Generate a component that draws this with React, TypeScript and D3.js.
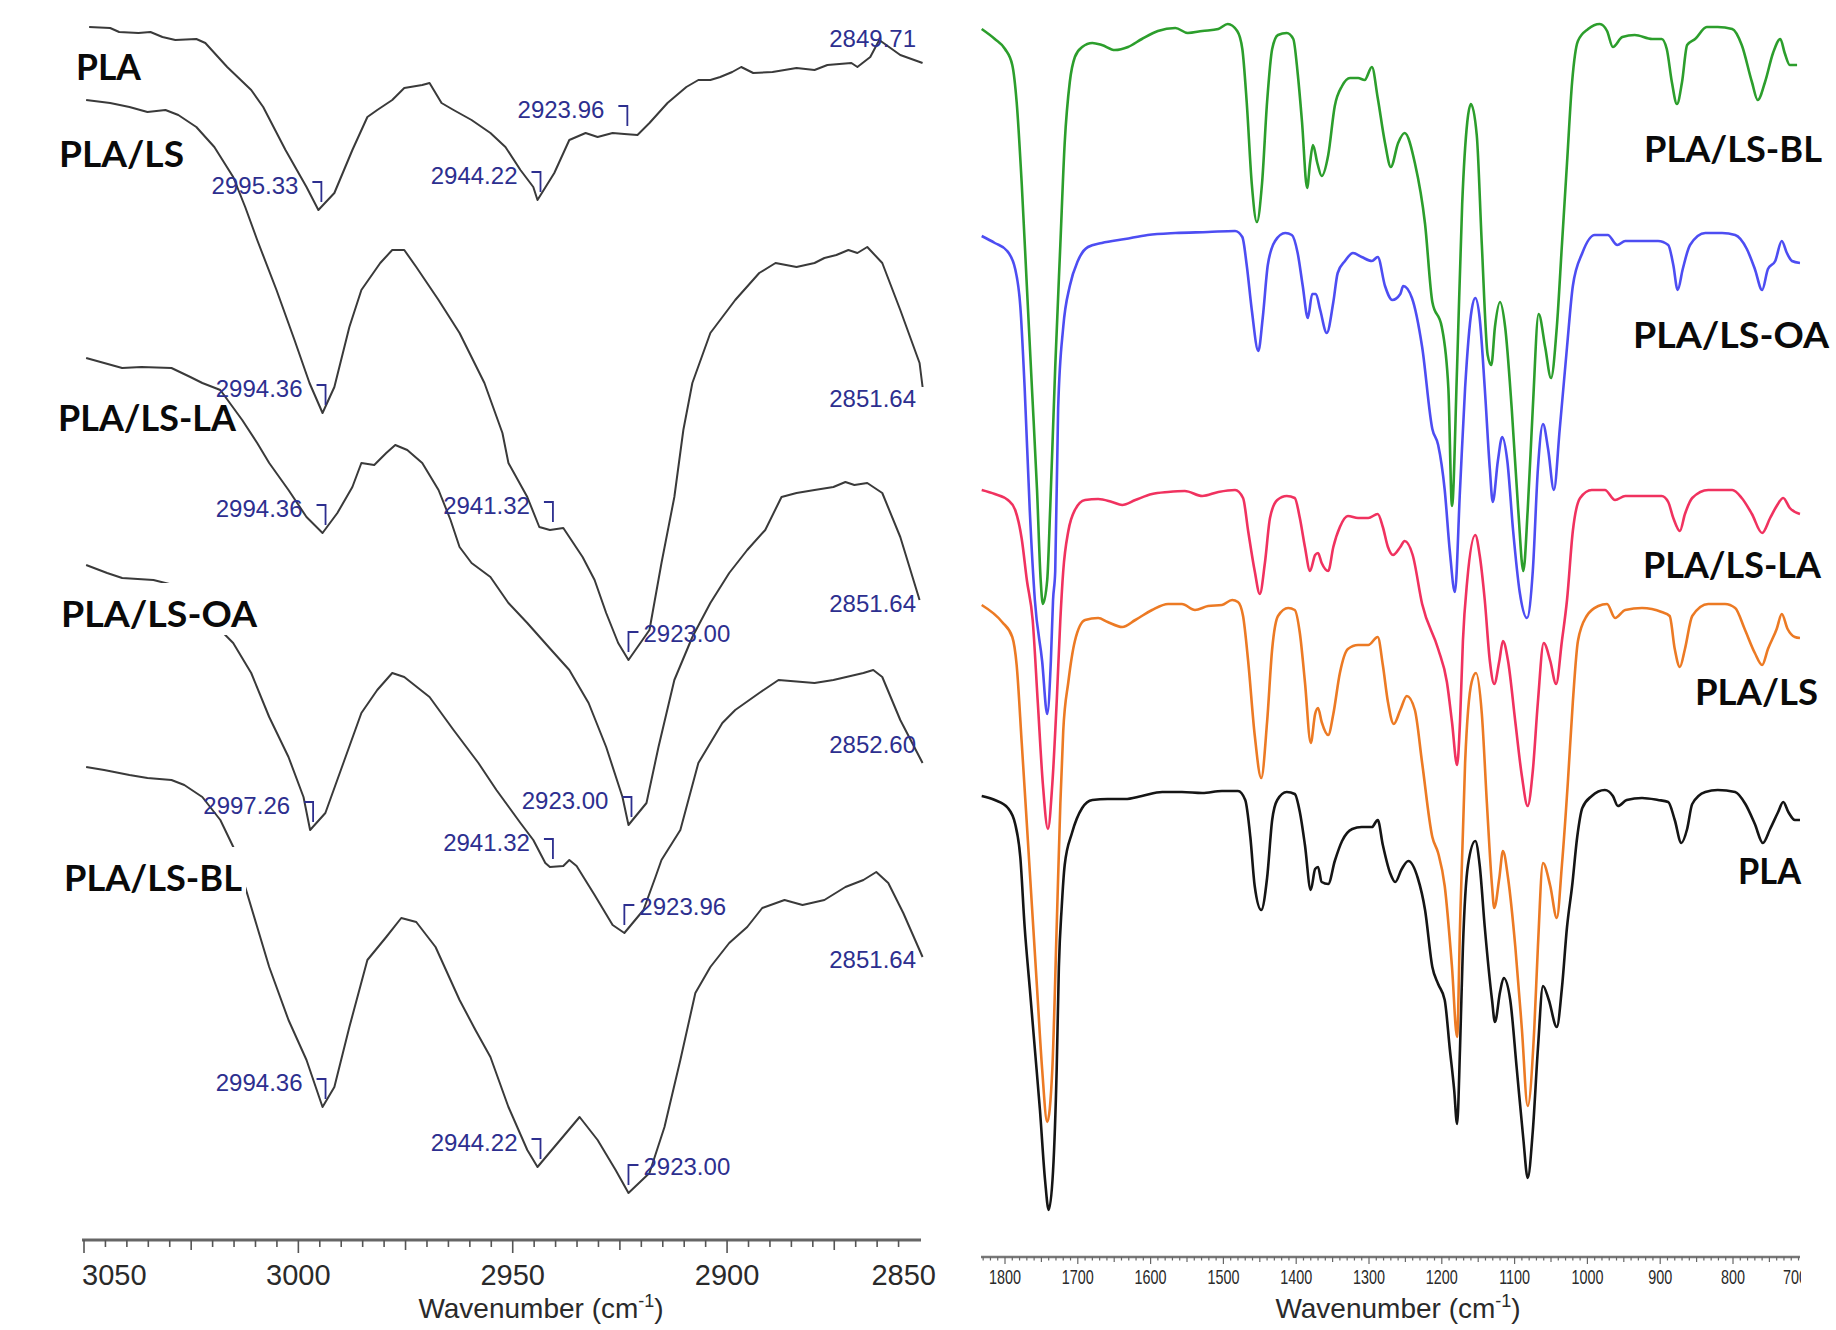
import { useEffect, useRef } from 'react'
import * as d3 from 'd3'

type Pt = [number, number]

// C–H stretching region: [wavenumber (cm-1), stacked transmittance (a.u.)]
const chPLA: Pt[] = [[3048.8,122.3],[3043.9,122.2],[3041.8,121.8],[3037.3,121.7],[3034.5,121.8],[3031.7,121.3],[3028.7,121.0],[3023.8,121.1],[3021.7,120.7],[3016.6,118.3],[3011.0,116.0],[3008.2,114.3],[3003.0,110.0],[2998.1,106.3],[2995.33,104.0],[2991.6,105.7],[2987.4,110.0],[2983.9,113.3],[2981.6,114.0],[2978.1,115.0],[2975.3,116.2],[2971.1,116.5],[2969.4,116.7],[2966.6,114.7],[2963.8,114.0],[2959.6,113.0],[2955.2,111.7],[2951.7,110.3],[2948.2,108.0],[2945.2,106.3],[2944.22,105.0],[2940.3,107.7],[2936.8,111.0],[2933.0,111.7],[2930.2,111.3],[2926.7,111.7],[2923.96,111.6],[2920.9,111.5],[2918.1,112.7],[2913.9,114.7],[2909.5,116.3],[2906.7,117.0],[2903.9,117.0],[2901.6,117.3],[2898.8,117.8],[2896.7,118.3],[2893.9,117.7],[2889.4,117.8],[2883.8,118.2],[2879.6,118.0],[2876.6,118.5],[2871.0,118.7],[2869.6,118.3],[2866.6,119.3],[2864.5,121.0],[2859.6,119.5],[2854.4,118.7]]
const chLS: Pt[] = [[3049.5,115.0],[3043.9,114.7],[3039.4,114.3],[3035.2,113.8],[3031.0,114.0],[3028.0,113.5],[3023.8,112.3],[3019.6,110.3],[3015.2,107.3],[3012.4,104.3],[3009.6,101.0],[3005.1,96.0],[3000.9,91.0],[2997.4,86.7],[2994.36,83.7],[2991.6,86.3],[2988.1,92.3],[2985.3,96.0],[2980.9,98.7],[2978.1,100.0],[2975.3,100.0],[2972.5,98.3],[2967.3,95.0],[2962.4,91.7],[2956.6,86.7],[2952.4,81.7],[2951.0,78.7],[2946.6,75.3],[2943.8,72.3],[2941.32,72.0],[2938.2,72.2],[2933.7,69.3],[2930.9,67.0],[2928.2,63.7],[2925.4,60.7],[2923.0,59.0],[2918.1,62.0],[2915.3,68.7],[2912.3,75.3],[2910.2,82.0],[2908.1,86.7],[2903.9,91.7],[2898.1,95.0],[2892.5,97.7],[2888.7,98.7],[2883.8,98.3],[2879.6,98.7],[2877.3,99.2],[2874.5,99.5],[2871.7,100.0],[2869.6,99.7],[2867.3,100.3],[2863.8,98.7],[2859.6,94.0],[2855.1,88.7],[2854.4,86.3]]
const chLA: Pt[] = [[3049.5,89.2],[3045.3,88.7],[3041.1,88.2],[3036.6,88.3],[3029.6,88.2],[3025.2,87.3],[3022.4,86.7],[3018.2,86.0],[3013.1,83.0],[3009.6,80.7],[3006.8,78.7],[3002.3,76.0],[2998.1,73.3],[2994.36,71.7],[2990.9,73.7],[2987.4,76.3],[2985.3,78.7],[2982.3,78.5],[2979.5,79.7],[2977.4,80.5],[2974.6,80.0],[2971.1,78.7],[2967.3,76.0],[2964.5,73.0],[2962.4,70.3],[2959.6,68.7],[2955.2,67.3],[2951.0,64.7],[2946.6,62.7],[2941.0,60.0],[2936.8,58.0],[2932.3,54.7],[2928.2,50.3],[2924.4,45.3],[2923.0,42.5],[2918.8,44.7],[2916.0,50.3],[2912.3,57.0],[2908.1,61.3],[2903.9,64.7],[2899.5,67.7],[2895.3,70.0],[2891.1,72.0],[2887.3,75.3],[2883.8,75.7],[2879.6,76.0],[2875.2,76.3],[2872.4,76.8],[2870.3,76.5],[2867.3,76.7],[2863.8,75.7],[2859.6,71.3],[2855.1,65.0]]
const chOA: Pt[] = [[3049.5,68.5],[3044.6,67.7],[3041.1,67.2],[3033.8,67.0],[3027.3,66.3],[3018.2,62.0],[3015.2,60.7],[3011.0,57.7],[3006.8,53.3],[3002.3,49.3],[2998.8,45.3],[2997.26,42.0],[2993.7,43.7],[2989.5,48.7],[2985.3,53.7],[2981.6,56.0],[2978.1,57.7],[2975.3,57.3],[2969.4,55.3],[2963.8,52.0],[2958.0,48.7],[2953.8,46.0],[2948.2,42.7],[2945.2,41.0],[2942.4,38.7],[2941.32,38.3],[2938.2,38.4],[2936.8,39.0],[2935.1,38.4],[2930.9,35.5],[2926.7,32.5],[2923.96,31.7],[2919.5,34.0],[2916.7,37.3],[2915.3,39.0],[2910.9,42.0],[2906.7,48.7],[2901.1,52.7],[2898.1,54.0],[2892.5,55.7],[2888.0,57.0],[2879.6,56.7],[2875.2,57.0],[2868.2,57.7],[2865.9,58.0],[2863.8,57.3],[2859.6,53.0],[2854.4,48.7]]
const chBL: Pt[] = [[3049.5,48.3],[3045.3,48.0],[3039.4,47.5],[3035.2,47.2],[3029.6,47.0],[3026.6,46.5],[3022.4,45.3],[3018.2,43.0],[3014.5,39.7],[3012.4,36.3],[3009.6,32.3],[3006.8,28.3],[3002.3,23.0],[2998.1,19.0],[2994.36,14.3],[2991.6,16.3],[2988.1,22.3],[2983.9,29.0],[2979.5,31.3],[2976.0,33.2],[2972.5,32.8],[2968.0,30.3],[2962.4,25.0],[2958.7,22.0],[2955.2,19.3],[2951.0,14.3],[2946.6,10.0],[2944.22,8.3],[2940.3,10.3],[2934.4,13.3],[2930.2,11.0],[2926.0,8.0],[2923.0,5.7],[2918.1,7.7],[2914.6,12.3],[2910.9,19.0],[2907.4,25.7],[2903.9,28.3],[2899.5,30.7],[2895.3,32.3],[2891.8,34.2],[2886.6,35.0],[2882.4,34.5],[2877.3,35.0],[2872.4,36.3],[2868.2,37.0],[2865.2,37.8],[2862.4,36.7],[2858.9,33.7],[2854.4,29.3]]

// fingerprint region, same units
const fpPLA: Pt[] = [[1832,45.4],[1814,45.0],[1796,44.2],[1786,42.6],[1779,39.3],[1773,32.3],[1766,26.2],[1759,20.1],[1752,14.0],[1745,7.0],[1740,4.0],[1734,7.9],[1729,18.1],[1726,28.3],[1722,34.4],[1718,38.5],[1708,41.7],[1694,44.2],[1680,45.0],[1659,45.1],[1635,45.1],[1612,45.4],[1584,45.8],[1557,45.8],[1529,45.7],[1502,45.9],[1480,45.9],[1470,45.0],[1463,41.3],[1457,36.4],[1448,34.0],[1440,37.2],[1433,43.0],[1426,45.0],[1413,45.8],[1402,45.6],[1395,43.8],[1388,40.5],[1380,36.0],[1374,38.1],[1370,38.3],[1365,36.8],[1356,36.6],[1347,38.9],[1337,40.9],[1323,42.1],[1310,42.3],[1296,42.3],[1288,43.0],[1281,40.5],[1271,37.7],[1264,36.8],[1255,38.1],[1246,38.9],[1233,37.2],[1223,34.0],[1213,28.3],[1205,26.6],[1196,25.0],[1189,20.1],[1183,16.0],[1179,12.6],[1175,20.1],[1171,30.3],[1164,38.5],[1154,40.9],[1148,38.5],[1141,32.3],[1131,25.0],[1127,22.8],[1120,25.8],[1115,27.2],[1106,25.0],[1097,18.1],[1088,11.1],[1082,7.2],[1075,11.9],[1068,20.1],[1061,26.4],[1053,25.0],[1042,22.3],[1035,26.2],[1028,32.3],[1021,36.4],[1014,41.3],[1007,44.2],[994,45.4],[976,46.0],[965,45.4],[958,44.4],[946,45.0],[925,45.2],[903,45.0],[889,44.8],[880,43.0],[871,40.7],[863,42.1],[856,44.6],[838,45.8],[821,46.0],[797,45.8],[783,44.6],[770,42.6],[759,40.7],[749,42.1],[738,43.8],[731,44.8],[724,43.8],[715,43.0],[708,43.0]]
const fpLS: Pt[] = [[1832,64.5],[1804,62.8],[1790,61.3],[1784,58.5],[1777,50.7],[1770,42.6],[1763,34.4],[1756,26.2],[1749,18.1],[1742,12.8],[1735,18.1],[1729,32.3],[1724,44.6],[1720,51.9],[1713,56.8],[1704,60.9],[1690,63.0],[1672,63.2],[1659,62.8],[1639,62.3],[1621,63.0],[1598,64.0],[1576,64.6],[1557,64.6],[1539,64.0],[1521,64.4],[1502,64.5],[1488,65.0],[1480,64.8],[1473,63.4],[1466,58.9],[1457,51.5],[1448,47.2],[1440,52.8],[1433,60.1],[1425,63.4],[1411,64.2],[1402,64.0],[1395,61.7],[1388,56.8],[1380,50.7],[1374,53.6],[1370,54.2],[1365,52.8],[1356,51.5],[1349,53.6],[1340,57.7],[1329,60.1],[1315,60.5],[1301,60.5],[1288,61.3],[1281,58.5],[1274,54.8],[1266,52.6],[1257,54.0],[1248,55.4],[1237,54.0],[1227,48.7],[1213,41.3],[1205,39.7],[1196,36.4],[1186,28.3],[1179,21.3],[1175,32.3],[1168,48.7],[1159,56.8],[1153,57.7],[1145,53.6],[1138,44.6],[1131,36.4],[1128,34.2],[1121,37.2],[1116,39.9],[1109,37.2],[1099,30.3],[1090,22.1],[1082,14.4],[1073,22.1],[1068,30.3],[1061,38.7],[1051,36.4],[1042,33.2],[1035,38.5],[1027,46.6],[1020,54.8],[1013,60.9],[1001,63.4],[985,64.4],[973,64.6],[962,63.2],[948,64.0],[925,64.2],[898,63.8],[887,63.4],[880,60.1],[873,58.3],[866,60.1],[856,63.4],[834,64.6],[811,64.6],[797,64.2],[784,62.1],[770,59.7],[760,58.5],[752,60.1],[740,62.1],[733,63.6],[725,62.1],[715,61.3],[708,61.2]]
const fpLA: Pt[] = [[1832,76.0],[1814,75.6],[1796,75.0],[1786,74.0],[1777,71.1],[1770,67.0],[1762,63.0],[1755,54.8],[1748,46.6],[1741,42.1],[1735,46.6],[1729,54.8],[1724,63.0],[1720,67.9],[1713,71.9],[1704,74.0],[1690,75.0],[1672,75.1],[1653,74.8],[1639,74.5],[1621,75.0],[1598,75.6],[1576,75.8],[1553,75.9],[1529,75.4],[1507,75.8],[1484,76.0],[1473,75.2],[1466,71.9],[1457,67.9],[1450,65.6],[1443,68.7],[1436,73.2],[1426,75.0],[1413,75.4],[1402,75.2],[1395,73.2],[1388,70.3],[1381,67.9],[1374,69.5],[1370,69.7],[1365,68.7],[1356,67.9],[1349,70.3],[1340,72.3],[1329,73.4],[1315,73.2],[1301,73.2],[1288,73.6],[1281,72.3],[1274,70.3],[1267,69.5],[1257,70.3],[1251,70.9],[1240,69.5],[1227,64.6],[1205,60.1],[1193,56.8],[1186,52.8],[1179,48.5],[1175,52.8],[1171,60.9],[1165,67.0],[1154,71.5],[1148,69.5],[1141,65.0],[1134,58.9],[1128,56.6],[1121,58.9],[1116,60.9],[1109,58.9],[1099,52.8],[1090,47.4],[1082,44.4],[1075,47.9],[1068,54.8],[1060,60.7],[1051,58.9],[1043,56.6],[1035,60.9],[1028,65.0],[1020,71.9],[1010,75.2],[994,76.0],[976,76.0],[962,75.0],[948,75.4],[925,75.4],[898,75.4],[889,74.8],[882,73.2],[873,71.9],[866,73.6],[856,75.2],[834,76.0],[801,76.0],[788,75.2],[774,73.6],[760,71.7],[749,73.2],[740,74.4],[731,75.2],[722,74.2],[708,73.6]]
const fpOA: Pt[] = [[1832,101.4],[1814,100.7],[1797,99.9],[1786,98.1],[1779,94.4],[1773,86.2],[1766,74.0],[1759,65.0],[1749,58.9],[1742,53.6],[1737,58.9],[1734,65.0],[1731,67.9],[1727,84.2],[1720,92.3],[1711,96.4],[1700,98.9],[1686,100.3],[1667,100.7],[1635,101.1],[1604,101.5],[1566,101.7],[1521,101.8],[1484,101.9],[1474,101.3],[1468,98.5],[1461,94.0],[1452,89.9],[1446,93.2],[1439,98.5],[1429,100.9],[1415,101.7],[1406,101.5],[1398,99.7],[1391,96.4],[1384,93.2],[1378,95.6],[1373,95.6],[1367,94.0],[1358,91.7],[1349,94.8],[1343,97.7],[1333,98.9],[1322,99.7],[1310,99.3],[1296,98.9],[1288,99.3],[1278,96.4],[1268,95.0],[1257,95.6],[1253,96.4],[1241,95.2],[1227,90.3],[1213,82.1],[1205,80.5],[1196,76.0],[1189,69.9],[1182,65.8],[1175,76.0],[1168,86.2],[1159,94.0],[1154,95.2],[1148,93.2],[1141,86.2],[1134,78.1],[1130,74.8],[1123,78.9],[1117,81.3],[1110,78.9],[1102,71.9],[1093,65.8],[1083,63.2],[1075,67.9],[1068,78.1],[1061,82.6],[1054,80.1],[1046,76.0],[1038,82.1],[1028,90.3],[1020,96.4],[1007,99.7],[990,101.5],[972,101.5],[959,100.5],[948,100.9],[925,100.9],[903,100.9],[889,100.5],[882,98.5],[876,96.0],[869,98.1],[859,100.5],[838,101.7],[815,101.7],[797,101.5],[781,100.1],[770,98.1],[760,96.0],[752,98.1],[742,98.9],[733,100.9],[726,99.7],[719,98.9],[708,98.7]]
const fpBL: Pt[] = [[1832,122.1],[1814,121.1],[1800,120.1],[1790,118.5],[1784,114.8],[1777,106.6],[1770,96.4],[1763,86.2],[1756,76.0],[1751,67.0],[1748,64.6],[1742,67.0],[1738,74.0],[1731,88.3],[1724,100.5],[1718,110.7],[1711,116.8],[1704,119.3],[1694,120.3],[1680,120.7],[1667,120.5],[1649,120.0],[1631,120.3],[1612,121.1],[1590,121.9],[1566,122.2],[1549,121.7],[1529,121.9],[1507,122.1],[1494,122.6],[1481,121.9],[1474,120.1],[1468,114.8],[1461,106.6],[1454,102.8],[1447,106.6],[1440,114.8],[1433,120.1],[1425,121.5],[1413,121.7],[1404,121.1],[1398,117.7],[1392,112.8],[1385,106.2],[1381,108.7],[1377,110.5],[1371,108.7],[1365,107.4],[1356,109.5],[1347,114.4],[1337,116.4],[1326,117.2],[1315,117.2],[1306,117.0],[1296,118.3],[1288,115.2],[1278,110.7],[1270,108.3],[1260,110.7],[1251,111.7],[1237,108.7],[1223,102.6],[1213,94.8],[1200,92.3],[1191,86.2],[1186,74.4],[1179,88.3],[1172,104.6],[1165,112.8],[1160,114.6],[1152,111.5],[1145,100.5],[1137,89.5],[1132,88.5],[1127,92.3],[1120,94.8],[1113,92.3],[1104,84.2],[1095,74.0],[1088,67.9],[1082,74.0],[1075,84.2],[1067,93.6],[1058,90.3],[1050,87.2],[1042,92.3],[1035,100.5],[1028,108.7],[1021,116.8],[1013,120.9],[999,122.1],[983,122.6],[973,121.9],[965,120.3],[952,121.3],[935,121.5],[911,121.1],[898,121.1],[891,120.1],[884,116.8],[877,114.6],[870,116.8],[863,120.5],[852,121.1],[836,122.3],[821,122.3],[801,122.1],[788,120.5],[774,116.8],[766,115.0],[756,116.8],[745,119.7],[735,121.1],[729,119.7],[722,118.5],[712,118.5]]

const chTicks = [3050, 3000, 2950, 2900, 2850]
const fpTicks = [1800, 1700, 1600, 1500, 1400, 1300, 1200, 1100, 1000, 900, 800, 700]

const chSeries = [
  { name: 'PLA', data: chPLA },
  { name: 'PLA/LS', data: chLS },
  { name: 'PLA/LS-LA', data: chLA },
  { name: 'PLA/LS-OA', data: chOA },
  { name: 'PLA/LS-BL', data: chBL },
]

const fpSeries = [
  { name: 'PLA', data: fpPLA, color: '#151515' },
  { name: 'PLA/LS', data: fpLS, color: '#ec7a24' },
  { name: 'PLA/LS-LA', data: fpLA, color: '#f0325f' },
  { name: 'PLA/LS-OA', data: fpOA, color: '#4d4df2' },
  { name: 'PLA/LS-BL', data: fpBL, color: '#2c9e2c' },
]

// picked bands; side = where the number sits relative to its bracket
const chPeaks = [
  { series: 'PLA', wn: 2995.33, side: 'left' },
  { series: 'PLA', wn: 2944.22, side: 'left' },
  { series: 'PLA', wn: 2923.96, side: 'left' },
  { series: 'PLA', wn: 2849.71, side: 'end', dy: -16 },
  { series: 'PLA/LS', wn: 2994.36, side: 'left' },
  { series: 'PLA/LS', wn: 2941.32, side: 'left' },
  { series: 'PLA/LS', wn: 2923.0, side: 'right' },
  { series: 'PLA/LS', wn: 2851.64, side: 'end', dy: 20 },
  { series: 'PLA/LS-LA', wn: 2994.36, side: 'left' },
  { series: 'PLA/LS-LA', wn: 2923.0, side: 'left' },
  { series: 'PLA/LS-LA', wn: 2851.64, side: 'end', dy: 12 },
  { series: 'PLA/LS-OA', wn: 2997.26, side: 'left' },
  { series: 'PLA/LS-OA', wn: 2941.32, side: 'left' },
  { series: 'PLA/LS-OA', wn: 2923.96, side: 'right' },
  { series: 'PLA/LS-OA', wn: 2852.6, side: 'end', dy: -10 },
  { series: 'PLA/LS-BL', wn: 2994.36, side: 'left' },
  { series: 'PLA/LS-BL', wn: 2944.22, side: 'left' },
  { series: 'PLA/LS-BL', wn: 2923.0, side: 'right' },
  { series: 'PLA/LS-BL', wn: 2851.64, side: 'end', dy: 11 },
]

const chLabels = [
  { name: 'PLA', x: 76, y: 80, w: 65, box: false },
  { name: 'PLA/LS', x: 59, y: 167, w: 125, box: false },
  { name: 'PLA/LS-LA', x: 58, y: 431, w: 178, box: false },
  { name: 'PLA/LS-OA', x: 61, y: 627, w: 196, box: true },
  { name: 'PLA/LS-BL', x: 64, y: 891, w: 178, box: true },
]

const fpLabels = [
  { name: 'PLA/LS-BL', x: 1644, y: 162, w: 178 },
  { name: 'PLA/LS-OA', x: 1633, y: 348, w: 196 },
  { name: 'PLA/LS-LA', x: 1643, y: 578, w: 178 },
  { name: 'PLA/LS', x: 1695, y: 705, w: 123 },
  { name: 'PLA', x: 1738, y: 884, w: 63 },
]

const AXIS_FONT = '"Liberation Sans", Arial, sans-serif'
const LABEL_FONT = 'Lato, "Open Sans", sans-serif'
const PEAK_COLOR = '#2d2f8f'

function valueAt(points: Pt[], wn: number) {
  for (let i = 1; i < points.length; i++) {
    const [w0, v0] = points[i - 1]
    const [w1, v1] = points[i]
    if ((w0 - wn) * (w1 - wn) <= 0) return w0 === w1 ? v0 : v0 + ((v1 - v0) * (wn - w0)) / (w1 - w0)
  }
  return points[points.length - 1][1]
}

export default function App() {
  const ref = useRef<SVGSVGElement | null>(null)

  useEffect(() => {
    if (!ref.current) return
    const svg = d3.select(ref.current)
    svg.selectAll('*').remove()

    const y = d3.scaleLinear().domain([0, 125]).range([1250, 0])
    const xCH = d3.scaleLinear().domain([3050, 2855]).range([84, 920])
    const xFP = d3.scaleLinear().domain([1800, 800]).range([1005, 1733])

    // ---------- left: C–H stretching ----------
    const chLine = d3.line<Pt>().x((d) => xCH(d[0])).y((d) => y(d[1]))
    svg
      .append('g')
      .selectAll('path')
      .data(chSeries)
      .join('path')
      .attr('d', (d) => chLine(d.data))
      .attr('fill', 'none')
      .attr('stroke', '#3a3a3a')
      .attr('stroke-width', 2)
      .attr('stroke-linejoin', 'round')

    const chLab = svg.append('g')
    chLab
      .selectAll('rect')
      .data(chLabels.filter((d) => d.box))
      .join('rect')
      .attr('x', (d) => d.x - 4)
      .attr('y', (d) => d.y - 44)
      .attr('width', (d) => d.w + 8)
      .attr('height', 52)
      .attr('fill', '#fff')
    chLab
      .selectAll('text')
      .data(chLabels)
      .join('text')
      .attr('x', (d) => d.x)
      .attr('y', (d) => d.y)
      .attr('textLength', (d) => d.w)
      .attr('lengthAdjust', 'spacingAndGlyphs')
      .style('font', `700 37px ${LABEL_FONT}`)
      .style('fill', '#0a0a0a')
      .text((d) => d.name)

    // peak picks with brackets
    const peaks = svg.append('g').style('font', `24px ${AXIS_FONT}`).style('fill', PEAK_COLOR)
    const xEnd = xCH.range()[1]
    chPeaks.forEach((p) => {
      const s = chSeries.find((d) => d.name === p.series)!
      const label = p.wn.toFixed(2)
      if (p.side === 'end') {
        const last = s.data[s.data.length - 1]
        peaks
          .append('text')
          .attr('x', Math.min(xCH(p.wn), xEnd) - 4)
          .attr('y', y(last[1]) + (p.dy || 0))
          .attr('text-anchor', 'end')
          .text(label)
        return
      }
      const px = xCH(p.wn)
      const bottom = y(valueAt(s.data, p.wn)) - 8
      const top = bottom - 20
      if (p.side === 'left') {
        const bx = px + 3
        peaks
          .append('path')
          .attr('d', `M${bx - 9},${top}H${bx}V${bottom}`)
          .attr('fill', 'none')
          .attr('stroke', PEAK_COLOR)
          .attr('stroke-width', 1.8)
        peaks.append('text').attr('x', px - 20).attr('y', top + 12).attr('text-anchor', 'end').text(label)
      } else {
        peaks
          .append('path')
          .attr('d', `M${px + 10},${top}H${px}V${bottom}`)
          .attr('fill', 'none')
          .attr('stroke', PEAK_COLOR)
          .attr('stroke-width', 1.8)
        peaks.append('text').attr('x', px + 15).attr('y', top + 10).text(label)
      }
    })

    // left axis
    const chAxis = svg.append('g').attr('transform', 'translate(0,1240)')
    chAxis
      .append('line')
      .attr('x1', 82)
      .attr('x2', 921)
      .attr('stroke', '#666')
      .attr('stroke-width', 3)
    chAxis
      .selectAll('line.tick')
      .data(d3.range(3050, 2855, -5))
      .join('line')
      .attr('class', 'tick')
      .attr('x1', (d) => xCH(d))
      .attr('x2', (d) => xCH(d))
      .attr('y1', 0)
      .attr('y2', (d) => (d % 50 === 0 ? 13 : d % 25 === 0 ? 10 : 7))
      .attr('stroke', '#555')
      .attr('stroke-width', 1.6)
    chTicks.forEach((t, i) => {
      let anchor = 'middle'
      let tx = xCH(t)
      if (i === 0) {
        anchor = 'start'
        tx = 82
      } else if (i === chTicks.length - 1) {
        anchor = 'end'
        tx = 936
      }
      chAxis
        .append('text')
        .attr('x', tx)
        .attr('y', 45)
        .attr('text-anchor', anchor)
        .style('font', `29px ${AXIS_FONT}`)
        .style('fill', '#2a2a2a')
        .text(t)
    })

    // ---------- right: fingerprint region ----------
    const fpLine = d3
      .line<Pt>()
      .x((d) => xFP(d[0]))
      .y((d) => y(d[1]))
      .curve(d3.curveMonotoneX)
    svg
      .append('g')
      .selectAll('path')
      .data(fpSeries)
      .join('path')
      .attr('d', (d) => fpLine(d.data))
      .attr('fill', 'none')
      .attr('stroke', (d) => d.color)
      .attr('stroke-width', 2.6)
      .attr('stroke-linejoin', 'round')

    svg
      .append('g')
      .selectAll('text')
      .data(fpLabels)
      .join('text')
      .attr('x', (d) => d.x)
      .attr('y', (d) => d.y)
      .attr('textLength', (d) => d.w)
      .attr('lengthAdjust', 'spacingAndGlyphs')
      .style('font', `700 37px ${LABEL_FONT}`)
      .style('fill', '#0a0a0a')
      .text((d) => d.name)

    svg
      .append('clipPath')
      .attr('id', 'fp-axis-clip')
      .append('rect')
      .attr('x', 960)
      .attr('y', 1200)
      .attr('width', 841)
      .attr('height', 130)

    const fpAxis = svg.append('g').attr('transform', 'translate(0,1257)')
    fpAxis
      .append('line')
      .attr('x1', 981)
      .attr('x2', 1800)
      .attr('stroke', '#777')
      .attr('stroke-width', 2.5)
    fpAxis
      .selectAll('line.tick')
      .data(d3.range(1830, 705, -10))
      .join('line')
      .attr('class', 'tick')
      .attr('x1', (d) => xFP(d))
      .attr('x2', (d) => xFP(d))
      .attr('y1', 0)
      .attr('y2', (d) => (d % 100 === 0 ? 7 : d % 50 === 0 ? 5 : 3.5))
      .attr('stroke', '#666')
      .attr('stroke-width', 1.2)
    // tick numbers live in page coordinates so the clip box lines up
    const fpTickText = svg.append('g').attr('clip-path', 'url(#fp-axis-clip)')
    fpTicks.forEach((t) => {
      fpTickText
        .append('text')
        .attr('transform', `translate(${Math.min(xFP(t), 1795)},${1257 + 27}) scale(0.72,1)`)
        .attr('text-anchor', 'middle')
        .style('font', `20px ${AXIS_FONT}`)
        .style('fill', '#2a2a2a')
        .text(t)
    })

    // axis titles
    const title = (cx: number) => {
      const t = svg
        .append('text')
        .attr('x', cx)
        .attr('y', 1318)
        .attr('text-anchor', 'middle')
        .style('font', `28px ${AXIS_FONT}`)
        .style('fill', '#2a2a2a')
      t.append('tspan').text('Wavenumber (cm')
      t.append('tspan').attr('dy', -11).style('font-size', '18px').text('-1')
      t.append('tspan').attr('dy', 11).text(')')
    }
    title(541)
    title(1398)
  }, [])

  return (
    <div style={{ position: 'absolute', left: 0, top: 0 }}>
      <svg ref={ref} width={1836} height={1330} style={{ display: 'block', background: '#fff' }} />
    </div>
  )
}
